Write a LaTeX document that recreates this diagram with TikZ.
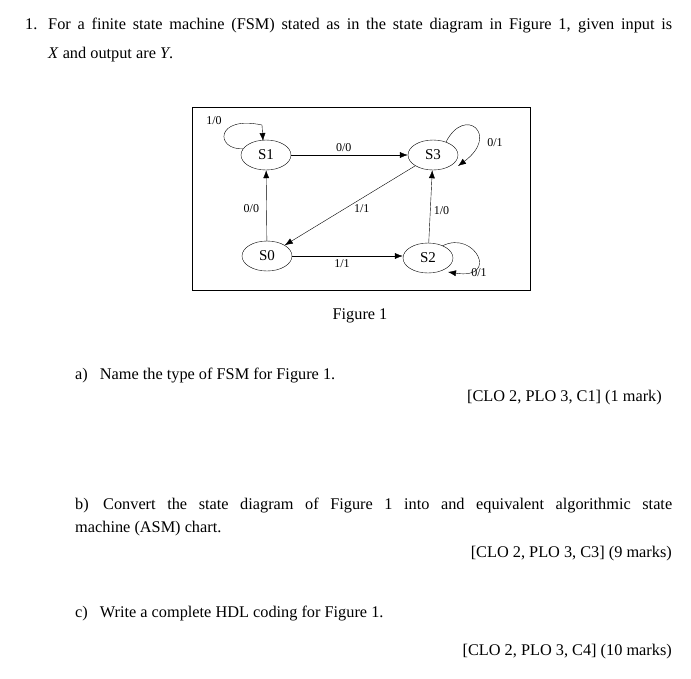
\documentclass[tikz,border=0pt]{standalone}
\usepackage{fontspec}
\setmainfont{Liberation Serif}
\usetikzlibrary{arrows.meta,shapes.geometric}
\begin{document}
\begin{tikzpicture}[x=1pt,y=-1pt,
  st/.style={draw,ellipse,minimum width=50pt,minimum height=30pt,inner sep=0pt,font=\fontsize{15}{17}\selectfont},
  tr/.style={-{Latex[length=8pt,width=6pt]},thin},
  lb/.style={font=\fontsize{12}{14}\selectfont},
  body/.style={font=\fontsize{16.3}{29}\selectfont,anchor=base west,inner sep=0pt}]
\useasboundingbox (0,0) rectangle (691,678);
\node[body] (n1) at (25,29) {1.};
\node[body,text width=624pt,align=justify,anchor=north west] (q1) at (48,18) {For a finite state machine (FSM) stated as in the state diagram in Figure 1, given input is\linebreak \textit{X} and output are \textit{Y}.};
\draw (192,107) rectangle (530,290);
\node[st] (S1) at (266,155) {S1};
\node[st] (S3) at (433,155) {S3};
\node[st] (S0) at (267,256) {S0};
\node[st] (S2) at (428,258) {S2};
\draw[tr] (S1) -- node[lb,above,pos=0.45] {0/0} (S3);
\draw[tr] (S0) -- node[lb,left,pos=0.45,xshift=-4pt] {0/0} (S1);
\draw[tr] (S3) -- node[lb,pos=0.45,below right,xshift=-6pt] {1/1} (S0);
\draw[tr] (S0.east) -- node[lb,below,pos=0.45] {1/1} (S2.west|-S0.east);
\draw[tr] (S2) -- node[lb,right,pos=0.45] {1/0} (S3);
\draw[tr] (S1.165) .. controls (215,150) and (215,115) .. (262,125) -- (263,141);
\node[lb] (l10) at (214,121) {1/0};
\draw[tr] (S3.45) .. controls (465,105) and (500,135) .. (458,166);
\node[lb] (l01a) at (495,143) {0/1};
\draw[tr] (S2.40) .. controls (475,230) and (500,280) .. (448,272);
\node[lb] (l01b) at (479,273) {0/1};
\node[body,anchor=base] (fig) at (360,319) {Figure 1};
\node[body] (a) at (75,379) {a)\hspace{12pt}Name the type of FSM for Figure 1.};
\node[body,anchor=base east] (ma) at (662,401) {[CLO 2, PLO 3, C1] (1 mark)};
\node[body,text width=597pt,align=justify,anchor=north west,font=\fontsize{16.3}{23}\selectfont] (b) at (75,497.5) {\hangindent=28pt\hangafter=1 \makebox[28pt][l]{b)}Convert the state diagram of Figure 1 into and equivalent algorithmic state\linebreak machine (ASM) chart.};
\node[body,anchor=base east] (mb) at (672,557) {[CLO 2, PLO 3, C3] (9 marks)};
\node[body] (c) at (75,617) {c)\hspace{12pt}Write a complete HDL coding for Figure 1.};
\node[body,anchor=base east] (mc) at (672,655) {[CLO 2, PLO 3, C4] (10 marks)};
\end{tikzpicture}
\end{document}
